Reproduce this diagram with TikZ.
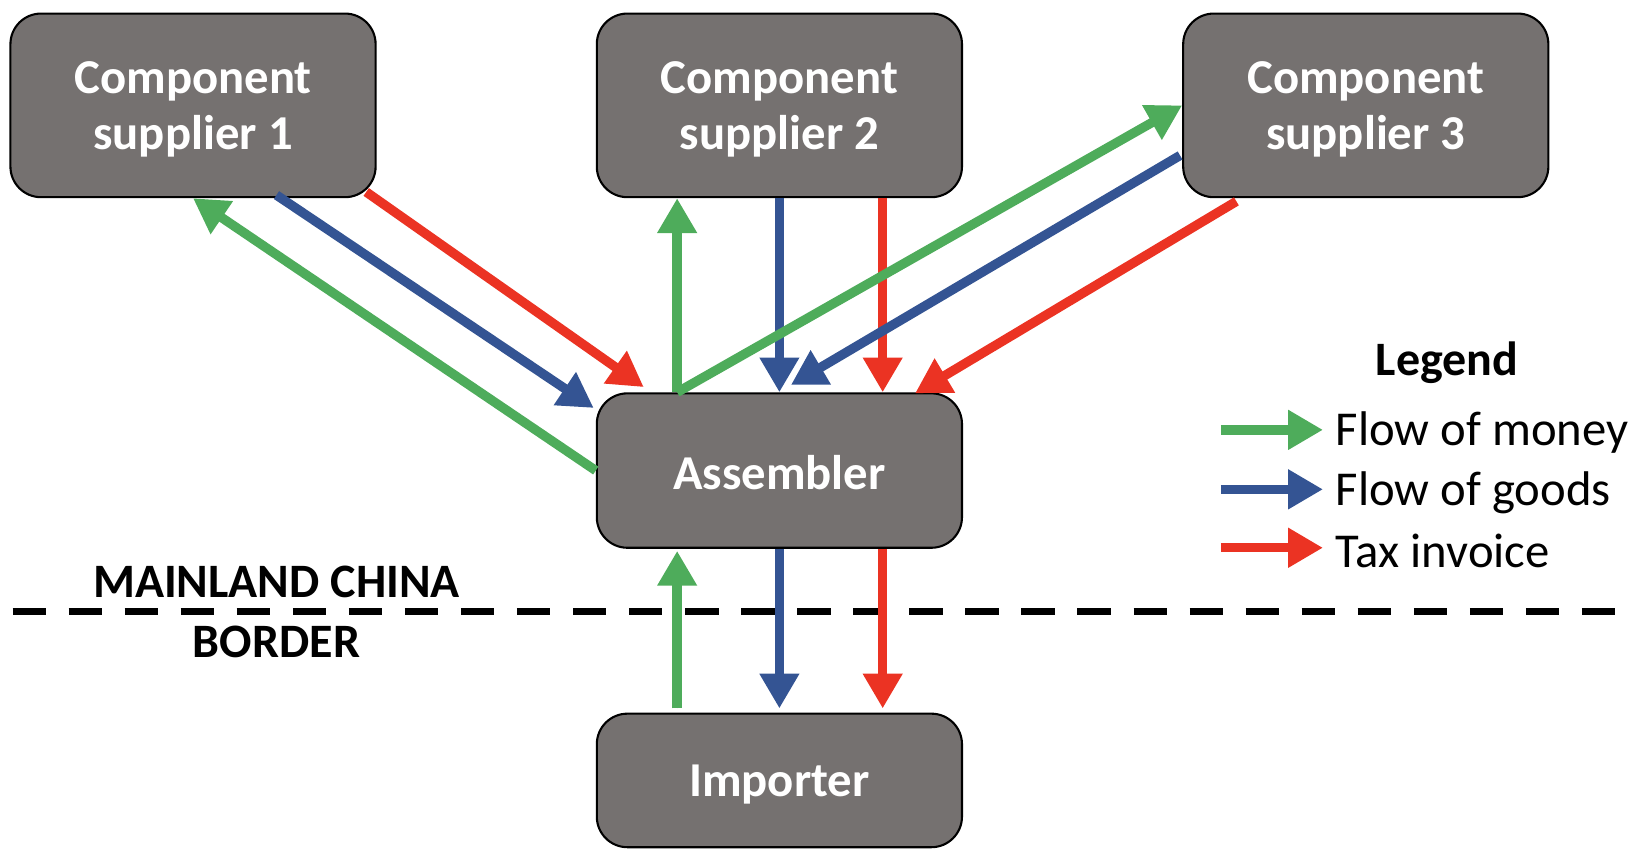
\documentclass[tikz,border=0pt]{standalone}
\usepackage{fontspec}
\setmainfont{Carlito}
\usetikzlibrary{arrows.meta,calc}
\definecolor{moneygreen}{RGB}{78,172,91}
\definecolor{goodsblue}{RGB}{52,84,147}
\definecolor{taxred}{RGB}{235,51,35}
\definecolor{boxgray}{RGB}{117,113,112}

\begin{document}
\begin{tikzpicture}[x=0.75pt,y=-0.75pt,
  party/.style={draw=black,line width=1.5pt,fill=boxgray,rounded corners=22pt,
    minimum width=262.5pt,minimum height=132pt,text=white,align=center,
    font=\fontsize{35}{40.5}\selectfont\bfseries,
    execute at begin node=\rule{0pt}{28pt}},
  supplier/.style={party,text depth=0pt},
  flow/.style={line width=6.75pt,-{Triangle[width=27pt,length=25pt]}},
  money/.style={flow,draw=moneygreen,fill=moneygreen},
  goods/.style={flow,draw=goodsblue,fill=goodsblue},
  tax/.style={flow,draw=taxred,fill=taxred},
  borderline/.style={line width=5pt,dash pattern=on 24pt off 16.29pt},
  bordertext/.style={font=\fontsize{34.5}{40}\selectfont\bfseries},
  legtext/.style={font=\fontsize{35}{40}\selectfont,inner sep=0pt}]
\useasboundingbox (0,0) rectangle (1568,830);

\node[supplier] (sup1) at (185,101) {Component\\supplier 1};
\node[supplier] (sup2) at (747,101) {Component\\supplier 2};
\node[supplier] (sup3) at (1309,101) {Component\\supplier 3};
\node[party,minimum height=111pt] (asm) at (747,451) {Assembler};
\node[party,minimum height=96pt] (imp) at (747,748) {Importer};

\coordinate (bl) at (12,586);
\coordinate (br) at (1548,586);
\draw[borderline] (bl) -- (br);
\node[bordertext] (mainland) at (265,558) {MAINLAND CHINA};
\node[bordertext] (border) at (265,615) {BORDER};

\coordinate (split) at ($(asm.north west)+(78,0)$);
\draw[money] (asm.west) -- (sup1.south);
\draw[goods] ($(sup1.south)+(80,-3)$) -- ($(asm.north west)+(-2,15)$);
\draw[tax] ($(sup1.south east)+(-10,-6)$) -- ($(asm.north west)+(46,-5)$);
\draw[money] (split) -- ($(sup2.south west)+(78,0)$);
\draw[goods] (sup2.south) -- (asm.north);
\draw[tax] ($(sup2.south)+(99,0)$) -- ($(asm.north)+(99,0)$);
\draw[money] (split) -- (sup3.west);
\draw[goods] ($(sup3.west)+(-2,48)$) -- ($(asm.north)+(11,-7)$);
\draw[tax] ($(sup3.south west)+(52,3)$) -- ($(asm.north east)+(-46,1)$);
\draw[money] ($(imp.north west)+(78,-4)$) -- ($(asm.south west)+(78,2)$);
\draw[goods] (asm.south) -- ($(imp.north)+(0,-4)$);
\draw[tax] ($(asm.south)+(99,0)$) -- ($(imp.north)+(99,-4)$);

\node[font=\fontsize{34.5}{40}\selectfont\bfseries] (legend) at (1387,348) {Legend};
\foreach \kind/\txt/\y in {money/Flow of money/412,goods/Flow of goods/469,tax/Tax invoice/525}{
  \coordinate (\kind-a) at (1170,\y);
  \coordinate (\kind-b) at (1268,\y);
  \draw[\kind] (\kind-a) -- (\kind-b);
  \node[legtext,anchor=west] (\kind-txt) at (1280,\y+3) {\txt};
}
\end{tikzpicture}
\end{document}
